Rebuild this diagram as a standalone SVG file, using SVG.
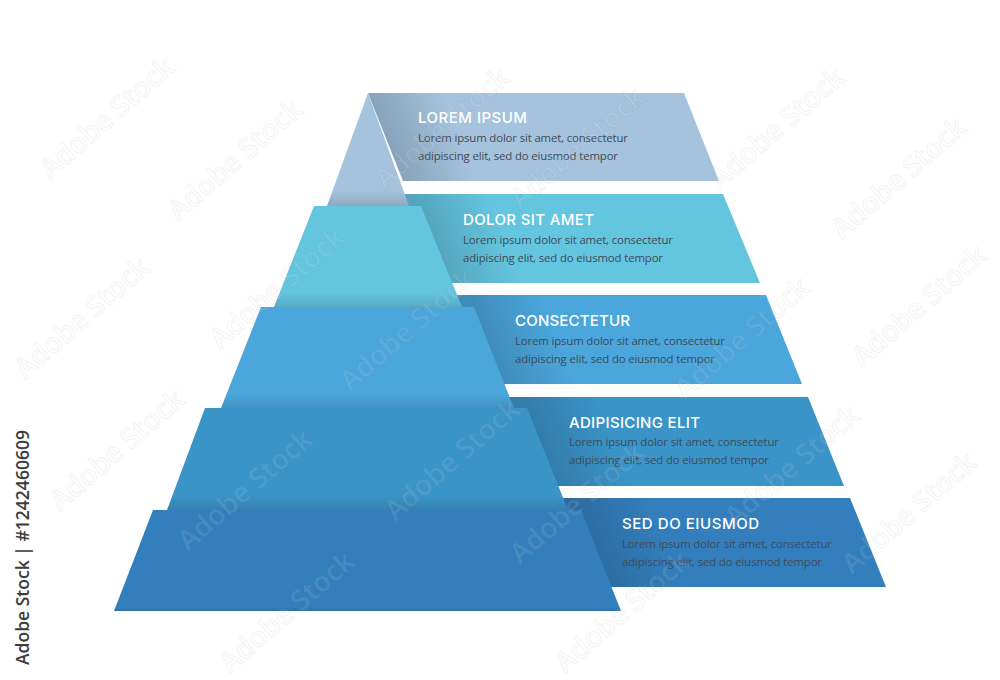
<svg xmlns="http://www.w3.org/2000/svg" width="1000" height="680" viewBox="0 0 1000 680">
<style>
.t{font-family:Inter,"Liberation Sans",sans-serif;font-size:15px;font-weight:500;fill:#fff}
.b{font-family:"Open Sans","Liberation Sans",sans-serif;font-size:11.4px;fill:#3f4a5a}
.w{font-family:"Open Sans","Liberation Sans",sans-serif;font-size:28px;font-weight:600;fill:#fff;fill-opacity:.1;stroke:#667;stroke-opacity:.07;stroke-width:1.5}
</style>
<defs>
<linearGradient id="s0"><stop offset="0" stop-color="#123" stop-opacity=".2"/><stop offset="1" stop-color="#123" stop-opacity="0"/></linearGradient>
<linearGradient id="s1" href="#s0" gradientUnits="userSpaceOnUse" x1="385" y1="137" x2="450" y2="112"/>
<linearGradient id="s2" href="#s0" gradientUnits="userSpaceOnUse" x1="430" y1="238" x2="495" y2="213"/>
<linearGradient id="s3" href="#s0" gradientUnits="userSpaceOnUse" x1="485" y1="340" x2="550" y2="315"/>
<linearGradient id="s4" href="#s0" gradientUnits="userSpaceOnUse" x1="540" y1="441" x2="605" y2="416"/>
<linearGradient id="s5" href="#s0" gradientUnits="userSpaceOnUse" x1="592" y1="542" x2="657" y2="517"/>
<linearGradient id="bt" x1="0" x2="0" y1="0" y2="1"><stop offset="0" stop-color="#123" stop-opacity="0"/><stop offset="1" stop-color="#123" stop-opacity=".16"/></linearGradient>
</defs>
<rect width="1000" height="680" fill="#fff"/>
<g id="tier5">
<polygon points="540,498 850,498 886,587 540,587" fill="#337fbd"/>
<polygon points="540,498 850,498 886,587 540,587" fill="url(#s5)"/>
<polygon points="153,510 581,510 621,611 114,611" fill="#337fbd"/>
<polygon points="115.500,607 619.400,607 621,611 114,611" fill="url(#bt)"/>
<text class="t" x="622" y="529" textLength="137">SED DO EIUSMOD</text>
<text class="b" x="622" y="548" textLength="210">Lorem ipsum dolor sit amet, consectetur</text>
<text class="b" x="622" y="566" textLength="200">adipiscing elit, sed do eiusmod tempor</text>
</g>
<g id="tier4">
<polygon points="490,397 808,397 844,486 490,486" fill="#3a94c8"/>
<polygon points="490,397 808,397 844,486 490,486" fill="url(#s4)"/>
<polygon points="205,408 527,408 568,510 167,510" fill="#3a94c8"/>
<polygon points="172.400,496 562.400,496 568,510 167,510" fill="url(#bt)"/>
<text class="t" x="569" y="428" textLength="131">ADIPISICING ELIT</text>
<text class="b" x="569" y="446" textLength="210">Lorem ipsum dolor sit amet, consectetur</text>
<text class="b" x="569" y="464" textLength="200">adipiscing elit, sed do eiusmod tempor</text>
</g>
<g id="tier3">
<polygon points="440,295 766,295 802,384 440,384" fill="#4ba6dc"/>
<polygon points="440,295 766,295 802,384 440,384" fill="url(#s3)"/>
<polygon points="261,307 474,307 514,408 221,408" fill="#4ba6dc"/>
<polygon points="226.500,394 508.500,394 514,408 221,408" fill="url(#bt)"/>
<text class="t" x="515" y="326" textLength="115">CONSECTETUR</text>
<text class="b" x="515" y="345" textLength="210">Lorem ipsum dolor sit amet, consectetur</text>
<text class="b" x="515" y="363" textLength="200">adipiscing elit, sed do eiusmod tempor</text>
</g>
<g id="tier2">
<polygon points="385,194 723,194 760,283 385,283" fill="#64c5df"/>
<polygon points="385,194 723,194 760,283 385,283" fill="url(#s2)"/>
<polygon points="314,206 421,206 462,307 274,307" fill="#64c5df"/>
<polygon points="279.500,293 456.300,293 462,307 274,307" fill="url(#bt)"/>
<text class="t" x="463" y="225" textLength="131">DOLOR SIT AMET</text>
<text class="b" x="463" y="244" textLength="210">Lorem ipsum dolor sit amet, consectetur</text>
<text class="b" x="463" y="262" textLength="200">adipiscing elit, sed do eiusmod tempor</text>
</g>
<g id="tier1">
<polygon points="368,93 684,93 719,181 403,181" fill="#a5c3dc"/>
<polygon points="368,93 684,93 719,181 403,181" fill="url(#s1)"/>
<polygon points="368,93 327,206 409,206" fill="#a5c3dc"/>
<polygon points="332.400,191 403.300,191 409,206 327,206" fill="url(#bt)"/>
<text class="t" x="418" y="123" textLength="109">LOREM IPSUM</text>
<text class="b" x="418" y="142" textLength="210">Lorem ipsum dolor sit amet, consectetur</text>
<text class="b" x="418" y="160" textLength="200">adipiscing elit, sed do eiusmod tempor</text>
</g>
<g id="watermark">
<text class="w" transform="translate(50,180) rotate(-41)">Adobe Stock</text>
<text class="w" transform="translate(178,222) rotate(-41)">Adobe Stock</text>
<text class="w" transform="translate(385,190) rotate(-41)">Adobe Stock</text>
<text class="w" transform="translate(520,210) rotate(-41)">Adobe Stock</text>
<text class="w" transform="translate(720,190) rotate(-41)">Adobe Stock</text>
<text class="w" transform="translate(842,240) rotate(-41)">Adobe Stock</text>
<text class="w" transform="translate(25,380) rotate(-41)">Adobe Stock</text>
<text class="w" transform="translate(220,350) rotate(-41)">Adobe Stock</text>
<text class="w" transform="translate(350,392) rotate(-41)">Adobe Stock</text>
<text class="w" transform="translate(685,400) rotate(-41)">Adobe Stock</text>
<text class="w" transform="translate(862,368) rotate(-41)">Adobe Stock</text>
<text class="w" transform="translate(60,512) rotate(-41)">Adobe Stock</text>
<text class="w" transform="translate(188,552) rotate(-41)">Adobe Stock</text>
<text class="w" transform="translate(395,522) rotate(-41)">Adobe Stock</text>
<text class="w" transform="translate(520,565) rotate(-41)">Adobe Stock</text>
<text class="w" transform="translate(735,528) rotate(-41)">Adobe Stock</text>
<text class="w" transform="translate(852,575) rotate(-41)">Adobe Stock</text>
<text class="w" transform="translate(230,674) rotate(-41)">Adobe Stock</text>
<text class="w" transform="translate(565,674) rotate(-41)">Adobe Stock</text>
</g>
<text transform="translate(29,665) rotate(-90)" font-family="'Open Sans','Liberation Sans',sans-serif" font-size="17.5" font-weight="600" fill="#3c3c3c" textLength="235">Adobe Stock | #1242460609</text>
</svg>
